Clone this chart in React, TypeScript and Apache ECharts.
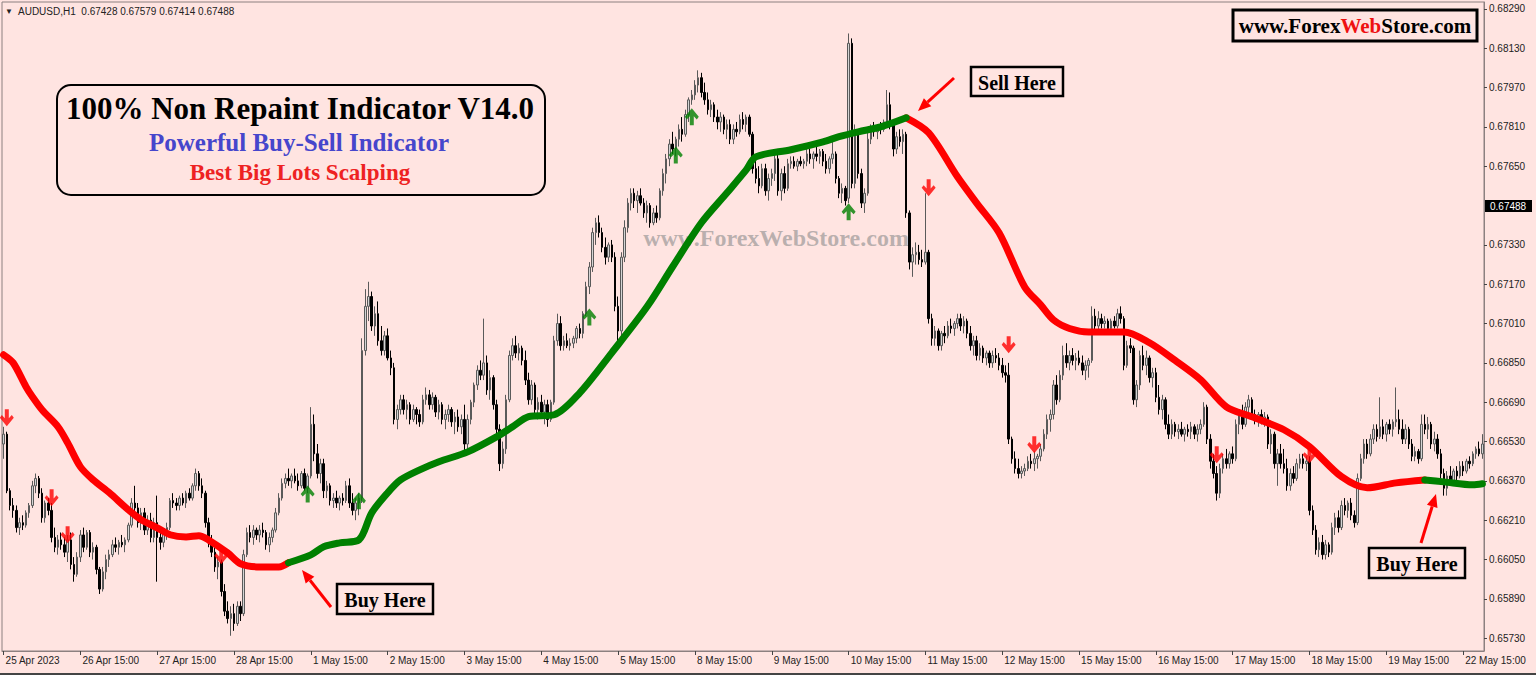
import React, { useEffect, useRef } from 'react';
import * as echarts from 'echarts';

// ---------- DATA ----------
const dayLabels = [
  '25 Apr 2023', '26 Apr 15:00', '27 Apr 15:00', '28 Apr 15:00', '1 May 15:00',
  '2 May 15:00', '3 May 15:00', '4 May 15:00', '5 May 15:00', '8 May 15:00',
  '9 May 15:00', '10 May 15:00', '11 May 15:00', '12 May 15:00', '15 May 15:00',
  '16 May 15:00', '17 May 15:00', '18 May 15:00', '19 May 15:00', '22 May 15:00',
];
const barsPerLabel = 24;

// price axis tick values, in points (1 point = 0.00001)
const yTicks = [65730, 65890, 66050, 66210, 66370, 66530, 66690, 66850, 67010, 67170, 67330, 67650, 67810, 67970, 68130, 68290];
const yMin = 65678;
const yMax = 68318;
const lastPrice = 67488;
const headerText = 'AUDUSD,H1  0.67428 0.67579 0.67414 0.67488';

// H1 bars: [open, high, low, close] in points
const ohlc = [
  [66520,66590,66460,66560],[66560,66570,66320,66330],[66330,66340,66250,66270],[66270,66300,66220,66250],
  [66250,66270,66160,66180],[66180,66220,66150,66200],[66200,66230,66170,66190],[66190,66250,66180,66240],
  [66240,66280,66220,66270],[66270,66370,66260,66350],[66350,66400,66320,66380],[66380,66390,66300,66320],
  [66320,66340,66200,66220],[66220,66290,66200,66280],[66280,66300,66230,66250],[66250,66280,66120,66140],
  [66140,66180,66080,66100],[66100,66150,66070,66130],[66130,66160,66090,66110],[66110,66140,66060,66080],
  [66080,66150,66040,66130],[66130,66160,66010,66030],[66030,66060,65960,65990],[65990,66080,65980,66060],
  [66060,66170,66040,66150],[66150,66180,66080,66100],[66100,66170,66090,66160],[66160,66170,66060,66080],
  [66080,66120,66050,66100],[66100,66110,65990,66010],[66010,66020,65910,65930],[65930,66020,65920,66000],
  [66000,66070,65970,66050],[66050,66090,66020,66070],[66070,66130,66060,66110],[66110,66140,66080,66100],
  [66100,66130,66070,66120],[66120,66150,66100,66110],[66110,66140,66080,66130],[66130,66200,66120,66190],
  [66190,66300,66180,66280],[66280,66350,66240,66260],[66260,66280,66180,66200],[66200,66260,66170,66240],
  [66240,66260,66150,66170],[66170,66230,66150,66210],[66210,66240,66120,66140],[66140,66220,66120,66200],
  [66200,66310,65960,66140],[66140,66180,66090,66120],[66120,66170,66100,66160],[66160,66200,66130,66180],
  [66180,66300,66170,66290],[66290,66320,66260,66280],[66280,66300,66250,66270],[66270,66310,66250,66300],
  [66300,66320,66270,66280],[66280,66330,66260,66320],[66320,66340,66290,66300],[66300,66360,66290,66350],
  [66350,66420,66330,66400],[66400,66410,66330,66350],[66350,66380,66300,66320],[66320,66330,66180,66200],
  [66200,66220,66100,66120],[66120,66150,66060,66080],[66080,66100,66000,66020],[66020,66060,65970,66040],
  [66040,66050,65900,65920],[65920,65950,65820,65840],[65840,65880,65790,65810],[65810,65860,65740,65830],
  [65830,65870,65760,65790],[65790,65880,65780,65860],[65860,65880,65800,65830],[65830,66090,65820,66070],
  [66070,66180,66060,66160],[66160,66190,66120,66140],[66140,66190,66110,66170],[66170,66180,66130,66150],
  [66150,66190,66120,66170],[66170,66200,66140,66160],[66160,66170,66090,66110],[66110,66160,66080,66140],
  [66140,66180,66120,66170],[66170,66260,66160,66240],[66240,66320,66230,66300],[66300,66380,66290,66360],
  [66360,66400,66340,66380],[66380,66420,66350,66370],[66370,66400,66340,66390],[66390,66420,66360,66370],
  [66370,66400,66330,66350],[66350,66410,66340,66400],[66400,66420,66330,66340],[66340,66400,66320,66390],
  [66390,66670,66380,66600],[66600,66640,66450,66480],[66480,66520,66380,66400],[66400,66460,66360,66440],
  [66440,66460,66300,66330],[66330,66370,66300,66350],[66350,66360,66270,66290],[66290,66320,66260,66300],
  [66300,66330,66260,66280],[66280,66310,66250,66300],[66300,66320,66270,66290],[66290,66370,66280,66350],
  [66350,66380,66260,66280],[66280,66320,66230,66250],[66250,66300,66210,66280],[66280,66320,66230,66300],
  [66300,66950,66280,66900],[66900,67150,66880,67080],[67080,67180,67020,67120],[67120,67140,66980,67000],
  [67000,67080,66960,67050],[67050,67100,66920,66940],[66940,67000,66880,66900],[66900,66980,66880,66960],
  [66960,66990,66860,66870],[66870,66900,66800,66830],[66830,66850,66600,66620],[66620,66680,66580,66660],
  [66660,66720,66640,66700],[66700,66720,66640,66660],[66660,66700,66620,66680],[66680,66690,66600,66620],
  [66620,66680,66610,66660],[66660,66670,66600,66640],[66640,66660,66590,66610],[66610,66720,66600,66700],
  [66700,66750,66680,66720],[66720,66740,66660,66680],[66680,66730,66660,66710],[66710,66720,66630,66650],
  [66650,66700,66620,66680],[66680,66690,66600,66620],[66620,66660,66580,66640],[66640,66680,66610,66660],
  [66660,66670,66590,66610],[66610,66650,66560,66630],[66630,66660,66570,66590],[66590,66640,66560,66620],
  [66620,66680,66490,66520],[66520,66640,66500,66620],[66620,66700,66600,66690],[66690,66770,66670,66760],
  [66760,66840,66740,66820],[66820,66860,66780,66800],[66800,67030,66780,66850],[66850,66880,66720,66740],
  [66740,66820,66700,66790],[66790,66800,66660,66680],[66680,66700,66560,66580],[66580,66600,66410,66440],
  [66440,66530,66420,66500],[66500,66720,66480,66700],[66700,66900,66690,66880],[66880,66950,66860,66920],
  [66920,66960,66870,66890],[66890,66930,66860,66910],[66910,66920,66840,66860],[66860,66900,66760,66780],
  [66780,66810,66680,66700],[66700,66780,66680,66760],[66760,66770,66640,66660],[66660,66710,66620,66690],
  [66690,66720,66630,66650],[66650,66700,66600,66680],[66680,66700,66590,66620],[66620,66700,66610,66690],
  [66690,66960,66680,66940],[66940,67050,66920,67010],[67010,67040,66900,66920],[66920,66960,66900,66940],
  [66940,66970,66910,66920],[66920,66950,66900,66930],[66930,66960,66910,66950],[66950,67000,66930,66990],
  [66990,67010,66950,66970],[66970,67060,66950,67050],[67050,67180,67040,67160],[67160,67260,67130,67240],
  [67240,67400,67220,67380],[67380,67440,67330,67420],[67420,67450,67360,67380],[67380,67400,67300,67320],
  [67320,67360,67250,67280],[67280,67340,67260,67330],[67330,67350,67260,67280],[67280,67300,67060,67080],
  [67080,67120,66910,66980],[66980,67300,66960,67280],[67280,67430,67260,67400],[67400,67520,67380,67500],
  [67500,67560,67470,67540],[67540,67560,67480,67510],[67510,67550,67460,67530],[67530,67560,67490,67500],
  [67500,67520,67440,67460],[67460,67510,67420,67490],[67490,67500,67400,67420],[67420,67480,67410,67460],
  [67460,67490,67420,67440],[67440,67560,67430,67550],[67550,67640,67530,67620],[67620,67700,67580,67680],
  [67680,67760,67650,67740],[67740,67790,67700,67720],[67720,67770,67690,67760],[67760,67820,67730,67800],
  [67800,67850,67750,67780],[67780,67880,67770,67860],[67860,67930,67830,67920],[67920,67960,67900,67940],
  [67940,68000,67920,67980],[67980,68040,67950,68010],[68010,68030,67930,67950],[67950,67990,67900,67920],
  [67920,67950,67860,67880],[67880,67920,67850,67900],[67900,67910,67830,67850],[67850,67880,67800,67830],
  [67830,67870,67790,67850],[67850,67860,67780,67800],[67800,67840,67760,67820],[67820,67840,67740,67760],
  [67760,67820,67740,67800],[67800,67830,67770,67790],[67790,67860,67780,67840],[67840,67870,67800,67820],
  [67820,67860,67790,67850],[67850,67860,67770,67780],[67780,67790,67620,67640],[67640,67680,67580,67600],
  [67600,67650,67540,67570],[67570,67660,67560,67640],[67640,67660,67530,67550],[67550,67620,67510,67600],
  [67600,67640,67570,67620],[67620,67700,67590,67680],[67680,67700,67530,67550],[67550,67640,67510,67620],
  [67620,67650,67540,67560],[67560,67680,67550,67660],[67660,67690,67640,67670],[67670,67690,67640,67650],
  [67650,67680,67630,67670],[67670,67690,67650,67660],[67660,67680,67640,67670],[67670,67720,67650,67700],
  [67700,67720,67660,67680],[67680,67710,67640,67700],[67700,67730,67670,67690],[67690,67720,67660,67710],
  [67710,67720,67650,67670],[67670,67700,67620,67640],[67640,67690,67620,67680],[67680,67760,67660,67700],
  [67700,67710,67580,67600],[67600,67610,67520,67540],[67540,67580,67500,67560],[67560,67570,67490,67510],
  [67520,68190,67500,68150],[68150,68170,67560,67580],[67580,67820,67560,67780],[67780,67800,67600,67620],
  [67620,67640,67480,67500],[67500,67560,67460,67540],[67540,67790,67530,67760],[67760,67820,67740,67800],
  [67800,67830,67770,67790],[67790,67820,67760,67810],[67810,67830,67780,67800],[67800,67840,67790,67830],
  [67830,67960,67820,67900],[67900,67950,67800,67820],[67820,67830,67690,67720],[67720,67790,67700,67770],
  [67770,67800,67730,67750],[67750,67800,67700,67780],[67780,67790,67440,67460],[67460,67470,67230,67260],
  [67260,67320,67200,67290],[67290,67340,67250,67300],[67300,67330,67250,67270],[67270,67310,67240,67260],
  [67260,67540,67250,67300],[67300,67310,67010,67030],[67030,67050,66920,66950],[66950,67000,66920,66980],
  [66980,66990,66900,66920],[66920,66980,66900,66970],[66970,67000,66930,66960],[66960,67020,66950,67000],
  [67000,67030,66970,66990],[66990,67020,66960,67010],[67010,67050,66990,67030],[67030,67050,66980,67000],
  [67000,67040,66970,67020],[67020,67030,66950,66970],[66970,67000,66900,66920],[66920,66960,66880,66940],
  [66940,66960,66860,66880],[66880,66930,66860,66910],[66910,66920,66850,66870],[66870,66900,66840,66890],
  [66890,66900,66830,66850],[66850,66900,66830,66880],[66880,66910,66850,66870],[66870,66890,66820,66840],
  [66840,66870,66790,66810],[66810,66840,66770,66800],[66800,66850,66520,66540],[66540,66550,66440,66460],
  [66460,66490,66400,66420],[66420,66460,66380,66400],[66400,66430,66380,66410],[66410,66440,66390,66420],
  [66420,66470,66410,66450],[66450,66480,66420,66440],[66440,66490,66410,66460],[66460,66480,66420,66470],
  [66470,66520,66450,66500],[66500,66580,66490,66560],[66560,66640,66540,66620],[66620,66660,66570,66640],
  [66640,66780,66620,66760],[66760,66800,66680,66700],[66700,66820,66690,66800],[66800,66920,66780,66880],
  [66880,66930,66830,66850],[66850,66900,66820,66880],[66880,66910,66840,66860],[66860,66890,66820,66870],
  [66870,66900,66840,66850],[66850,66880,66800,66820],[66820,66860,66780,66840],[66840,66870,66790,66860],
  [66860,67080,66850,67040],[67040,67070,66980,67000],[67000,67060,66980,67030],[67030,67050,66990,67010],
  [67010,67040,66990,67020],[67020,67030,66980,66990],[66990,67030,66980,67020],[67020,67040,66990,67000],
  [67000,67070,66990,67050],[67050,67080,67010,67030],[67030,67040,66820,66840],[66840,66940,66830,66920],
  [66920,66950,66890,66910],[66910,66920,66680,66700],[66700,66780,66670,66760],[66760,66900,66740,66880],
  [66880,66920,66820,66840],[66840,66900,66800,66870],[66870,66880,66770,66790],[66790,66830,66750,66810],
  [66810,66830,66690,66710],[66710,66760,66640,66660],[66660,66720,66620,66700],[66700,66710,66580,66600],
  [66600,66640,66540,66560],[66560,66620,66540,66600],[66600,66610,66550,66570],[66570,66600,66540,66580],
  [66580,66610,66550,66560],[66560,66590,66530,66580],[66580,66600,66550,66570],[66570,66610,66540,66590],
  [66590,66600,66540,66560],[66560,66600,66530,66580],[66580,66620,66560,66600],[66600,66690,66590,66670],
  [66670,66680,66520,66540],[66540,66560,66420,66450],[66450,66480,66380,66400],[66400,66430,66290,66320],
  [66320,66440,66300,66420],[66420,66480,66400,66460],[66460,66500,66420,66440],[66440,66490,66420,66480],
  [66480,66510,66440,66460],[66460,66620,66450,66600],[66600,66660,66560,66640],[66640,66680,66580,66600],
  [66600,66690,66590,66670],[66670,66720,66640,66700],[66700,66710,66620,66640],[66640,66660,66600,66620],
  [66620,66650,66590,66640],[66640,66660,66600,66610],[66610,66650,66590,66630],[66630,66640,66500,66520],
  [66520,66580,66480,66560],[66560,66570,66420,66440],[66440,66500,66350,66480],[66480,66520,66420,66440],
  [66440,66500,66400,66420],[66420,66460,66330,66350],[66350,66420,66330,66400],[66400,66430,66360,66380],
  [66380,66460,66370,66440],[66440,66480,66420,66460],[66460,66480,66420,66440],[66440,66470,66410,66450],
  [66450,66470,66230,66250],[66250,66270,66150,66170],[66170,66190,66070,66090],[66090,66140,66060,66120],
  [66120,66150,66050,66070],[66070,66130,66050,66110],[66110,66120,66060,66080],[66080,66200,66070,66180],
  [66180,66240,66150,66220],[66220,66250,66160,66180],[66180,66290,66170,66270],[66270,66300,66230,66250],
  [66250,66290,66220,66280],[66280,66300,66210,66230],[66230,66250,66180,66200],[66200,66400,66190,66380],
  [66380,66480,66370,66460],[66460,66540,66440,66520],[66520,66540,66460,66480],[66480,66560,66470,66540],
  [66540,66600,66520,66580],[66580,66600,66530,66550],[66550,66710,66540,66590],[66590,66620,66540,66560],
  [66560,66610,66530,66600],[66600,66620,66560,66580],[66580,66620,66550,66610],[66610,66750,66590,66620],
  [66620,66660,66560,66580],[66580,66620,66520,66540],[66540,66600,66520,66580],[66580,66590,66500,66520],
  [66520,66540,66450,66470],[66470,66510,66450,66490],[66490,66500,66440,66460],[66460,66640,66450,66600],
  [66600,66640,66560,66580],[66580,66630,66540,66600],[66600,66610,66500,66520],[66520,66570,66490,66540],
  [66540,66560,66460,66480],[66480,66500,66380,66400],[66400,66420,66310,66340],[66340,66410,66310,66390],
  [66390,66430,66350,66370],[66370,66420,66360,66410],[66410,66430,66370,66390],[66390,66450,66380,66430],
  [66430,66450,66390,66410],[66410,66460,66400,66450],[66450,66470,66420,66440],[66440,66490,66430,66480],
  [66480,66510,66460,66500],[66500,66530,66470,66480],[66480,66560,66460,66520],
];

// indicator line, sampled [barIndex, points]
const sellLine1 = [[0,66883],[3,66850],[7,66753],[9,66712],[12,66659],[17,66590],[20,66525],[24,66427],[28,66374],[33,66322],[39,66252],[43,66212],[48,66179],[52,66151],[57,66142],[61,66147],[64,66130],[70,66077],[74,66033],[80,66020],[86,66020],[89,66037]];
const buyLine1 = [[89,66037],[96,66069],[100,66102],[105,66118],[111,66130],[115,66240],[120,66322],[124,66374],[130,66415],[136,66448],[145,66488],[154,66549],[159,66590],[164,66631],[172,66639],[180,66728],[190,66891],[201,67078],[209,67241],[218,67420],[226,67542],[232,67635],[235,67688],[246,67717],[256,67749],[261,67770],[267,67790],[274,67810],[282,67847]];
const sellLine2 = [[282,67847],[289,67786],[298,67607],[304,67500],[311,67379],[319,67159],[324,67086],[328,67025],[333,66990],[339,66976],[350,66976],[358,66932],[366,66860],[374,66781],[382,66671],[390,66631],[400,66578],[408,66509],[418,66387],[426,66342],[435,66362],[444,66374]];
const buyLine2 = [[444,66374],[450,66366],[459,66354],[462,66358]];

// signal arrows [barIndex, points]
const sellArrows = [[1,66627],[15,66301],[20,66151],[68,66065],[289,67562],[314,66924],[322,66517],[379,66476],[408,66476]];
const buyArrows = [[95,66317],[111,66289],[183,67037],[210,67696],[215,67851],[264,67465]];

// ---------- STYLE ----------
const BG = '#FFE4E1';
const FRAME = '#8C8080';
const RED = '#FF0000';
const GREEN = '#008000';
const SERIF = '"Liberation Serif", "Times New Roman", serif';
const SANS = '"Liberation Sans", Arial, sans-serif';
const downArrow = 'path://M5 0 L9 0 L9 8.5 L12 5.5 L14 8 L7 16 L0 8 L2 5.5 L5 8.5 Z';
const upArrow = 'path://M5 16 L9 16 L9 7.5 L12 10.5 L14 8 L7 0 L0 8 L2 10.5 L5 7.5 Z';

function pointer(x1: number, y1: number, x2: number, y2: number) {
  const dx = x2 - x1, dy = y2 - y1;
  const len = Math.hypot(dx, dy);
  const ux = dx / len, uy = dy / len;
  const hl = 13, hw = 5.5;
  const bx = x2 - ux * hl, by = y2 - uy * hl;
  return [
    { type: 'line', z: 20, shape: { x1, y1, x2: bx, y2: by }, style: { stroke: RED, lineWidth: 3 } },
    { type: 'polygon', z: 20, shape: { points: [[x2, y2], [bx - uy * hw, by + ux * hw], [bx + uy * hw, by - ux * hw]] }, style: { fill: RED } },
  ];
}

function labelBox(x: number, y: number, w: number, h: number, text: string, size: number) {
  return [
    { type: 'rect', z: 20, shape: { x, y, width: w, height: h }, style: { fill: BG, stroke: '#000', lineWidth: 2.5 } },
    { type: 'text', z: 21, x: x + w / 2, y: y + h / 2 + 1, style: { text, fill: '#000', font: `bold ${size}px ${SERIF}`, align: 'center', verticalAlign: 'middle' } },
  ];
}

export default function App() {
  const ref = useRef<HTMLDivElement>(null);
  useEffect(() => {
    if (!ref.current) return;
    const chart = echarts.init(ref.current, undefined, { renderer: 'svg' });
    const cats = ohlc.map((_, i) => String(i));
    const showTick = (i: number) => i % barsPerLabel === 0;
    chart.setOption({
      animation: false,
      backgroundColor: BG,
      grid: { left: 2, right: 52, top: 2, bottom: 24, show: true, borderColor: FRAME, borderWidth: 1 },
      xAxis: {
        type: 'category', data: cats, boundaryGap: true,
        axisLine: { show: true, onZero: false, lineStyle: { color: FRAME } },
        axisTick: { show: true, alignWithLabel: true, interval: showTick, length: 4, lineStyle: { color: '#444' } },
        axisLabel: {
          interval: showTick, formatter: (_v: string, i: number) => dayLabels[i / barsPerLabel] ?? '',
          align: 'left', margin: 4, padding: [0, 0, 0, 2], fontFamily: SANS, fontSize: 10, color: '#222',
        },
        splitLine: { show: false },
      },
      yAxis: {
        type: 'value', position: 'right', min: yMin, max: yMax,
        splitLine: { show: false },
        axisLine: { show: true, onZero: false, lineStyle: { color: FRAME } },
        axisTick: { show: true, length: 3, customValues: yTicks, lineStyle: { color: '#444' } },
        axisLabel: { customValues: yTicks, formatter: (v: number) => (v / 100000).toFixed(5), margin: 5, fontFamily: SANS, fontSize: 10, color: '#222' },
      },
      series: [
        {
          type: 'candlestick', silent: true, z: 3, barWidth: 2,
          data: ohlc.map(([o, h, l, c]) => [o, c, l, h]),
          itemStyle: { color: '#D4D4D4', color0: '#000000', borderColor: '#5A5A5A', borderColor0: '#000000', borderWidth: 1 },
        },
        ...[sellLine1, sellLine2].map((d) => ({
          type: 'line', data: d, showSymbol: false, smooth: 0.3, silent: true, z: 4,
          lineStyle: { color: RED, width: 7, cap: 'round' },
        })),
        ...[buyLine1, buyLine2].map((d) => ({
          type: 'line', data: d, showSymbol: false, smooth: 0.3, silent: true, z: 4,
          lineStyle: { color: GREEN, width: 7, cap: 'round' },
        })),
        { type: 'scatter', data: sellArrows, symbol: downArrow, symbolSize: [14, 17], silent: true, z: 5, itemStyle: { color: RED } },
        { type: 'scatter', data: buyArrows, symbol: upArrow, symbolSize: [14, 17], silent: true, z: 5, itemStyle: { color: GREEN } },
      ],
    });
    const py = chart.convertToPixel({ yAxisIndex: 0 }, lastPrice) as number;
    chart.setOption({
      graphic: [
        { type: 'text', z: 1, x: 776, y: 238, style: { text: 'www.ForexWebStore.com', fill: 'rgba(140,140,140,0.6)', font: `bold 24px ${SERIF}`, align: 'center', verticalAlign: 'middle' } },
        { type: 'text', z: 10, x: 5, y: 11, style: { text: '▼', fill: '#222', font: `8px ${SANS}`, verticalAlign: 'middle' } },
        { type: 'text', z: 10, x: 18, y: 11, style: { text: headerText, fill: '#222', font: `10px ${SANS}`, verticalAlign: 'middle' } },
        { type: 'rect', z: 10, shape: { x: 1485, y: py - 6, width: 47, height: 12 }, style: { fill: '#000' } },
        { type: 'text', z: 11, x: 1490, y: py, style: { text: (lastPrice / 100000).toFixed(5), fill: '#fff', font: `10px ${SANS}`, verticalAlign: 'middle' } },
        // title box
        { type: 'rect', z: 20, shape: { x: 57, y: 85, width: 488, height: 110, r: 14 }, style: { fill: 'none', stroke: '#000', lineWidth: 2 } },
        { type: 'text', z: 21, x: 300, y: 108, style: { text: '100% Non Repaint Indicator V14.0', fill: '#000', font: `bold 31px ${SERIF}`, align: 'center', verticalAlign: 'middle' } },
        { type: 'text', z: 21, x: 299, y: 142, style: { text: 'Powerful Buy-Sell Indicator', fill: '#4646CC', font: `bold 25px ${SERIF}`, align: 'center', verticalAlign: 'middle' } },
        { type: 'text', z: 21, x: 300, y: 172, style: { text: 'Best Big Lots Scalping', fill: '#EE2222', font: `bold 23px ${SERIF}`, align: 'center', verticalAlign: 'middle' } },
        // site box
        { type: 'rect', z: 20, shape: { x: 1233, y: 10, width: 244, height: 31 }, style: { fill: BG, stroke: '#000', lineWidth: 3 } },
        {
          type: 'text', z: 21, x: 1355, y: 26,
          style: {
            text: '{a|www.Forex}{b|Web}{a|Store.com}', align: 'center', verticalAlign: 'middle',
            rich: {
              a: { fill: '#000', font: `bold 21px ${SERIF}` },
              b: { fill: '#EE1111', font: `bold 21px ${SERIF}` },
            },
          },
        },
        ...labelBox(971, 67, 92, 29, 'Sell Here', 20),
        ...labelBox(337, 584, 96, 30, 'Buy Here', 20),
        ...labelBox(1369, 548, 96, 30, 'Buy Here', 20),
        ...pointer(954, 78, 918, 111),
        ...pointer(331, 607, 302, 570),
        ...pointer(1421, 543, 1436, 494),
        { type: 'line', z: 30, shape: { x1: 0, y1: 674, x2: 1536, y2: 674 }, style: { stroke: '#444', lineWidth: 2 } },
      ],
    });
    return () => chart.dispose();
  }, []);
  return <div ref={ref} style={{ position: 'absolute', left: 0, top: 0, width: 1536, height: 675 }} />;
}
